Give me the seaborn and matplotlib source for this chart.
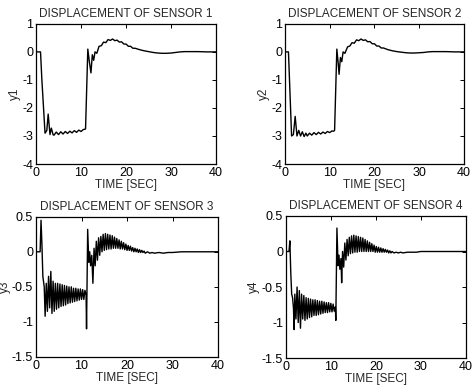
"""
Displacement of sensors 1-4 vs. time (2x2 panel, MATLAB-style axes)
"""

import matplotlib
matplotlib.use('Agg')
import matplotlib.pyplot as plt
import pandas as pd
import seaborn as sns

# ---- data --------------------------------------------------------------
t1 = [0, 1.0, 1.3, 2.0, 2.4, 2.7, 3.1, 3.4, 3.8, 4.0, 4.5, 5.0, 5.5, 6.0, 6.5,
      7.0, 7.5, 8.0, 8.5, 9.0, 9.5, 10.0, 10.5, 10.9, 11.0, 11.5, 11.8, 12.2,
      12.5, 12.8, 13.1, 13.5, 14.0, 14.5, 15.0, 15.5, 16.0, 16.5, 17.0, 17.5,
      18.0, 18.5, 19.0, 19.5, 20.0, 20.5, 21.0, 21.5, 22.0, 23.0, 24.0, 25.0,
      26.0, 27.0, 28.0, 29.0, 30.0, 31.0, 32.0, 33.0, 34.0, 36.0, 38.0, 40.0]
y1 = [0, 0, -1.0, -2.9, -2.8, -2.22, -2.95, -2.72, -2.96, -2.97, -2.86, -2.95,
      -2.85, -2.93, -2.84, -2.91, -2.83, -2.89, -2.81, -2.87, -2.79, -2.84,
      -2.77, -2.76, -2.74, 0.1, -0.3, -0.75, -0.1, -0.3, 0.0, -0.05, 0.2, 0.22,
      0.35, 0.33, 0.44, 0.41, 0.46, 0.40, 0.42, 0.35, 0.36, 0.28, 0.28, 0.2,
      0.2, 0.13, 0.13, 0.08, 0.04, 0.01, -0.02, -0.04, -0.05, -0.05, -0.04,
      -0.02, 0.0, 0.01, 0.01, 0.01, 0.0, 0.0]

t2 = [0, 0.8, 1.5, 1.9, 2.3, 2.7, 3.1, 3.5, 3.9, 4.3, 4.7, 5.0, 5.5, 6.0, 6.5,
      7.0, 7.5, 8.0, 8.5, 9.0, 9.5, 10.0, 10.5, 10.9, 11.1, 11.6, 11.9, 12.1,
      12.4, 12.7, 13.0, 13.4, 14.0, 14.5, 15.0, 15.5, 16.0, 16.5, 17.0, 17.5,
      18.0, 18.5, 19.0, 19.5, 20.0, 20.5, 21.0, 21.5, 22.0, 23.0, 24.0, 25.0,
      26.0, 27.0, 28.0, 29.0, 30.0, 31.0, 32.0, 33.0, 34.0, 36.0, 38.0, 40.0]
y2 = [0, 0, -3.0, -2.95, -2.3, -3.0, -2.8, -3.0, -2.85, -3.02, -2.9, -3.0,
      -2.9, -2.97, -2.88, -2.95, -2.87, -2.93, -2.86, -2.91, -2.84, -2.88,
      -2.82, -2.83, -2.8, 0.1, -0.4, -0.8, -0.2, -0.35, 0.0, -0.05, 0.18, 0.21,
      0.33, 0.31, 0.43, 0.4, 0.46, 0.41, 0.43, 0.36, 0.37, 0.29, 0.29, 0.21,
      0.21, 0.14, 0.14, 0.08, 0.04, 0.01, -0.01, -0.03, -0.04, -0.04, -0.03,
      -0.02, 0.0, 0.01, 0.01, 0.01, 0.0, 0.0]

t3 = [0, 0.9, 1.1, 1.3, 1.5, 1.8, 2.0, 2.25, 2.5, 2.75, 3.0, 3.25, 3.5, 3.75,
      4.0, 4.25, 4.5, 4.75, 5.0, 5.25, 5.5, 5.75, 6.0, 6.25, 6.5, 6.75, 7.0,
      7.25, 7.5, 7.75, 8.0, 8.25, 8.5, 8.75, 9.0, 9.25, 9.5, 9.75, 10.0, 10.25,
      10.5, 10.75, 11.0, 11.1, 11.35, 11.6, 11.8, 12.0, 12.25, 12.5, 12.75,
      13.0, 13.25, 13.5, 13.75, 14.0, 14.25, 14.5, 14.75, 15.0, 15.25, 15.5,
      15.75, 16.0, 16.25, 16.5, 16.75, 17.0, 17.25, 17.5, 17.75, 18.0, 18.25,
      18.5, 18.75, 19.0, 19.25, 19.5, 19.75, 20.0, 20.25, 20.5, 20.75, 21.0,
      21.25, 21.5, 21.75, 22.0, 22.25, 22.5, 22.75, 23.0, 23.25, 23.5, 23.75,
      24.0, 24.5, 25.0, 25.5, 26.0, 27.0, 28.0, 29.0, 30.0, 32.0, 35.0, 40.0]
y3 = [0, 0.0, 0.45, 0.1, -0.35, -0.5, -0.92, -0.45, -0.85, -0.35, -0.8, -0.28,
      -0.88, -0.42, -0.85, -0.45, -0.82, -0.45, -0.8, -0.46, -0.78, -0.47,
      -0.77, -0.48, -0.76, -0.49, -0.74, -0.5, -0.73, -0.5, -0.72, -0.52,
      -0.71, -0.52, -0.7, -0.53, -0.69, -0.53, -0.68, -0.54, -0.68, -0.55,
      -0.62, -1.1, 0.32, -0.15, 0.0, -0.2, -0.05, -0.45, 0.05, -0.2, 0.15,
      -0.12, 0.2, -0.05, 0.22, 0.0, 0.25, 0.02, 0.26, 0.03, 0.25, 0.04, 0.24,
      0.04, 0.23, 0.05, 0.21, 0.05, 0.19, 0.05, 0.17, 0.04, 0.15, 0.04, 0.13,
      0.03, 0.11, 0.02, 0.09, 0.02, 0.08, 0.01, 0.06, 0.0, 0.05, 0.0, 0.04,
      -0.01, 0.03, -0.01, 0.02, -0.01, 0.01, -0.02, 0.0, -0.02, -0.01, -0.02,
      -0.01, -0.02, -0.01, -0.01, 0.0, 0.0, 0.0]

t4 = [0, 0.7, 0.9, 1.1, 1.3, 1.5, 1.7, 1.85, 2.0, 2.25, 2.5, 2.75, 3.0, 3.25,
      3.5, 3.75, 4.0, 4.25, 4.5, 4.75, 5.0, 5.25, 5.5, 5.75, 6.0, 6.25, 6.5,
      6.75, 7.0, 7.25, 7.5, 7.75, 8.0, 8.25, 8.5, 8.75, 9.0, 9.25, 9.5, 9.75,
      10.0, 10.25, 10.5, 10.75, 11.0, 11.1, 11.35, 11.6, 11.8, 12.0, 12.25,
      12.4, 12.6, 12.85, 13.1, 13.35, 13.6, 13.85, 14.1, 14.35, 14.6, 14.85,
      15.1, 15.35, 15.6, 15.85, 16.1, 16.35, 16.6, 16.85, 17.1, 17.35, 17.6,
      17.85, 18.1, 18.35, 18.6, 18.85, 19.1, 19.35, 19.6, 19.85, 20.1, 20.35,
      20.6, 20.85, 21.1, 21.35, 21.6, 21.85, 22.1, 22.35, 22.6, 22.85, 23.1,
      23.35, 23.6, 24.0, 24.5, 25.0, 25.5, 26.0, 27.0, 28.0, 29.0, 30.0, 32.0,
      35.0, 40.0]
y4 = [0, 0.0, 0.15, -0.3, -0.6, -0.65, -0.8, -1.1, -0.6, -0.95, -0.5, -1.0,
      -0.55, -1.08, -0.6, -0.95, -0.62, -0.97, -0.65, -0.95, -0.66, -0.93,
      -0.67, -0.92, -0.68, -0.9, -0.68, -0.9, -0.69, -0.89, -0.7, -0.88, -0.7,
      -0.87, -0.71, -0.86, -0.72, -0.86, -0.72, -0.85, -0.73, -0.85, -0.74,
      -0.84, -0.78, -0.97, 0.33, -0.2, -0.05, -0.25, -0.1, -0.44, 0.0, -0.22,
      0.12, -0.12, 0.17, -0.06, 0.2, -0.03, 0.22, -0.02, 0.23, -0.01, 0.22,
      -0.01, 0.21, 0.0, 0.2, 0.0, 0.19, 0.0, 0.17, 0.0, 0.15, 0.0, 0.13, 0.0,
      0.11, 0.0, 0.09, -0.01, 0.07, -0.01, 0.06, -0.01, 0.05, -0.01, 0.04,
      -0.01, 0.03, -0.01, 0.02, -0.02, 0.01, -0.02, 0.0, -0.02, -0.01, -0.02,
      -0.01, -0.02, -0.01, -0.01, -0.01, 0.0, 0.0, 0.0, 0.0]

titles = ['DISPLACEMENT OF SENSOR 1', 'DISPLACEMENT OF SENSOR 2',
          'DISPLACEMENT OF SENSOR 3', 'DISPLACEMENT OF SENSOR 4']
ylabels = ['y1', 'y2', 'y3', 'y4']
ylims = [(-4, 1), (-4, 1), (-1.5, 0.5), (-1.5, 0.5)]
yticks = [[-4, -3, -2, -1, 0, 1], [-4, -3, -2, -1, 0, 1],
          [-1.5, -1, -0.5, 0, 0.5], [-1.5, -1, -0.5, 0, 0.5]]
xticks = [0, 10, 20, 30, 40]

# ---- style --------------------------------------------------------------
sns.set_style('white')
plt.rcParams['font.family'] = ['Liberation Sans', 'DejaVu Sans']
plt.rcParams['font.size'] = 8

fig = plt.figure(figsize=(4.74, 3.85), dpi=100)
fig.patch.set_facecolor('white')

# axes boxes in figure fractions (left, bottom, width, height)
boxes = [
    (0.076, 0.574, 0.380, 0.364),
    (0.601, 0.574, 0.378, 0.364),
    (0.076, 0.073, 0.384, 0.364),
    (0.603, 0.070, 0.380, 0.369),
]

series = [(t1, y1), (t2, y2), (t3, y3), (t4, y4)]

for i, (tt, yy) in enumerate(series):
    ax = fig.add_axes(boxes[i])
    df = pd.DataFrame({'t': tt, 'y': yy})
    sns.lineplot(data=df, x='t', y='y', ax=ax, color='black', lw=1.0,
                 estimator=None, sort=False)
    ax.set_xlim(0, 40)
    ax.set_ylim(*ylims[i])
    ax.set_xticks(xticks)
    ax.set_yticks(yticks[i])
    ax.set_yticklabels([f'{v:g}' for v in yticks[i]])
    ax.tick_params(direction='in', top=True, right=True, length=3,
                   width=0.7, labelsize=9, pad=2, colors='black')
    for sp in ax.spines.values():
        sp.set_color('black')
        sp.set_linewidth(0.9)
    ax.set_title(titles[i], fontsize=8.5, pad=5)
    ax.set_xlabel('TIME [SEC]', fontsize=8.5, labelpad=0)
    ax.set_ylabel(ylabels[i], fontsize=8.5, labelpad=1)

plt.savefig('out.png', dpi=100, facecolor='white')
plt.close()
